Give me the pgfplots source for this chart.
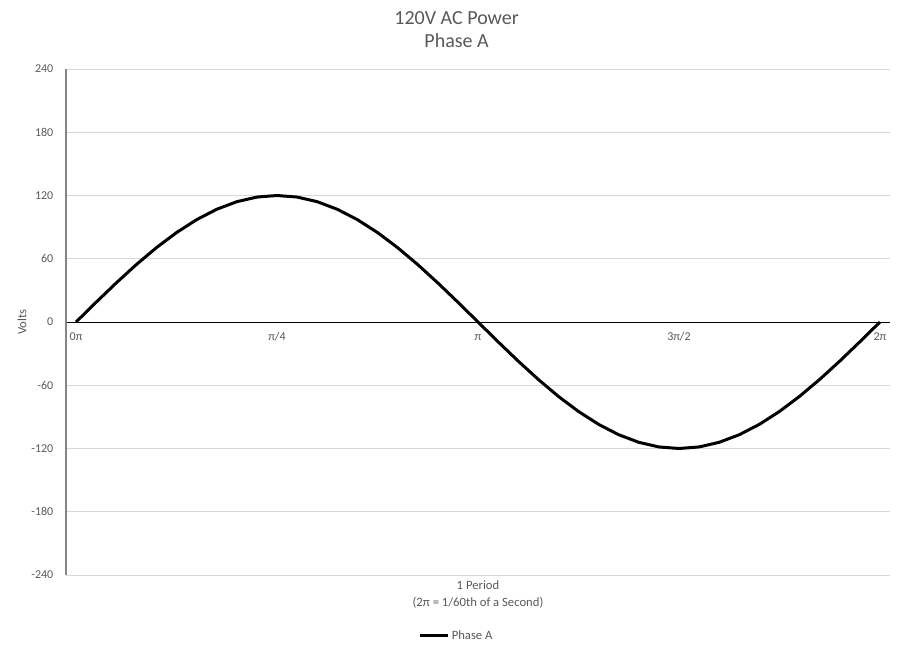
\documentclass[border=0pt]{standalone}
\usepackage{fontspec}
\setmainfont{Carlito}
\usepackage{pgfplots}
\pgfplotsset{compat=1.18}
\definecolor{txtgray}{HTML}{595959}
\definecolor{gridgray}{HTML}{D9D9D9}
\definecolor{axgray}{HTML}{868686}

\begin{document}
\begin{tikzpicture}
\useasboundingbox (0,0) rectangle (676.5pt,488.25pt);
\begin{axis}[
    at={(49.5pt,57pt)}, anchor=south west,
    scale only axis,
    width=618pt, height=379.5pt,
    xmin=-0.5, xmax=40.5,
    ymin=-240, ymax=240,
    axis x line=middle,
    axis y line=left,
    hide obscured x ticks=false,
    hide obscured y ticks=false,
    x axis line style={black, line width=0.75pt, -},
    y axis line style={axgray, line width=1.3pt, -},
    major tick length=0pt,
    xtick={0,10,20,30,40},
    xticklabels={0π, π/4, π, 3π/2, 2π},
    ytick={-240,-180,-120,-60,0,60,120,180,240},
    yticklabels={-240,-180,-120,-60,0,60,120,180,240},
    ymajorgrids,
    grid style={gridgray, line width=0.75pt},
    tick label style={font=\fontsize{9}{11}\selectfont, text=txtgray},
    xticklabel style={yshift=-3pt, text height=1.6ex, text depth=0.3ex},
    yticklabel style={xshift=-6pt},
    title={120V AC Power\\Phase A},
    title style={at={(axis description cs:0.474,1.062)}, anchor=center, align=center,
        font=\fontsize{15}{17.5}\selectfont, text=txtgray},
    xlabel={1 Period\\(2π = 1/60th of a Second)},
    xlabel style={at={(axis description cs:0.5,-0.0375)}, anchor=center, align=center,
        font=\fontsize{9.5}{12.75}\selectfont, text=txtgray},
    ylabel={Volts},
    ylabel style={at={(axis description cs:-0.0534,0.5)}, anchor=center, rotate=0,
        font=\fontsize{9.5}{11}\selectfont, text=txtgray},
    legend style={at={(axis description cs:0.474,-0.12)}, anchor=center, draw=none,
        font=\fontsize{9.5}{11}\selectfont, text=txtgray, inner sep=1pt},
    legend image code/.code={\draw[#1] (0cm,0cm) -- (0.74cm,0cm);},
    clip=false,
]
\addplot[black, line width=2.25pt, line join=round, mark=none] coordinates {
(0,0) (1,18.772) (2,37.082) (3,54.479) (4,70.534) (5,84.853) (6,97.082) (7,106.921)
(8,114.127) (9,118.523) (10,120) (11,118.523) (12,114.127) (13,106.921) (14,97.082)
(15,84.853) (16,70.534) (17,54.479) (18,37.082) (19,18.772) (20,0)
(21,-18.772) (22,-37.082) (23,-54.479) (24,-70.534) (25,-84.853) (26,-97.082) (27,-106.921)
(28,-114.127) (29,-118.523) (30,-120) (31,-118.523) (32,-114.127) (33,-106.921) (34,-97.082)
(35,-84.853) (36,-70.534) (37,-54.479) (38,-37.082) (39,-18.772) (40,0)
};
\addlegendentry{Phase A}
\end{axis}
\end{tikzpicture}
\end{document}
